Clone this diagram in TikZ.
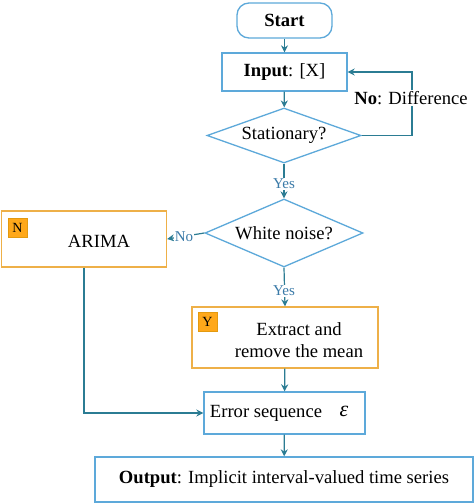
\documentclass[tikz,border=0pt]{standalone}
\usepackage{fontspec}
\setmainfont{Liberation Serif}
\usetikzlibrary{shapes.geometric,arrows.meta}
\definecolor{boxblue}{HTML}{5DA9DA}
\definecolor{conn}{HTML}{2B7C93}
\definecolor{lbl}{HTML}{3A7AA8}
\definecolor{boxorange}{HTML}{EEB048}
\definecolor{tagfill}{HTML}{FFA81A}
\definecolor{tagdraw}{HTML}{E39A10}
\tikzset{
  mainfont/.style={font=\fontsize{18.6}{22}\selectfont},
  bluebox/.style={draw=boxblue, line width=1.3pt, rectangle, inner sep=0pt, mainfont},
  orangebox/.style={draw=boxorange, line width=1.3pt, rectangle, inner sep=0pt, mainfont},
  decision/.style={draw=boxblue, line width=1.3pt, diamond, aspect=2.8, inner sep=0pt, mainfont},
  tag/.style={draw=tagdraw, fill=tagfill, line width=0.6pt, minimum width=19pt, minimum height=19pt, inner sep=0pt, font=\fontsize{14}{14}\selectfont},
  conline/.style={draw=conn, line width=1.2pt},
  arr/.style={conline, -{Stealth[length=7pt,width=7pt]}},
  yn/.style={fill=white, text=lbl, inner sep=1pt, font=\fontsize{15}{15}\selectfont},
  txt/.style={mainfont, inner sep=0pt, align=center}
}
\begin{document}
\begin{tikzpicture}[x=1pt,y=-1pt]
\useasboundingbox (0,0) rectangle (474,504);
\fill[white] (0,0) rectangle (474,504);

\node[bluebox, rounded corners=12pt, minimum width=95pt, minimum height=35pt] (start) at (284.5,20.5) {\textbf{Start}};
\node[bluebox, minimum width=125pt, minimum height=38pt] (input) at (284.5,72) {\textbf{Input}: [X]};
\node[decision, minimum width=154pt, minimum height=55pt] (stat) at (284,135.5) {Stationary?};
\node[decision, minimum width=158pt, minimum height=68pt] (wn) at (284,233) {White noise?};

\node[orangebox, minimum width=165pt, minimum height=56pt] (arima) at (84,239) {};
\node[txt] (arimatxt) at (99,241) {ARIMA};
\node[tag] (ntag) at (17.5,227.5) {N};

\node[orangebox, minimum width=186pt, minimum height=61pt] (ybox) at (285,337.5) {};
\node[txt] (ytxt) at (299,340) {Extract and\\remove the mean};
\node[tag] (ytag) at (207.5,322) {Y};

\node[bluebox, minimum width=161pt, minimum height=42pt] (err) at (284.5,413) {};
\node[txt] (errtxt) at (266,413) {Error sequence};
\node[inner sep=0pt, font=\fontsize{22}{22}\selectfont\itshape] (eps) at (344,411) {ε};
\node[bluebox, minimum width=378pt, minimum height=45pt] (out) at (284,479.5) {\textbf{Output}: Implicit interval-valued time series};

\coordinate (loopA) at (412,135.5);
\coordinate (loopB) at (412,72);
\coordinate (arimaC) at (84,413);

\draw[arr] (start) -- (input);
\draw[arr] (input) -- (stat);
\draw[arr] (stat.east) -- (loopA) -- (loopB) -- (input.east);
\node[fill=white, mainfont, inner sep=1pt] (nodiff) at (411,98) {\textbf{No}: Difference};

\draw[arr] (stat.south) -- (wn.north);
\node[yn] (yes1) at (284,184) {Yes};

\draw[arr] (wn.west) -- (arima.east);
\node[yn] (no1) at (184,237) {No};

\draw[arr] (wn.south) -- (ybox.north);
\node[yn] (yes2) at (284,291) {Yes};

\draw[arr] (ybox) -- (err);
\draw[arr] (err) -- (out);
\draw[arr] (arima.south) -- (arimaC) -- (err.west);
\end{tikzpicture}
\end{document}
